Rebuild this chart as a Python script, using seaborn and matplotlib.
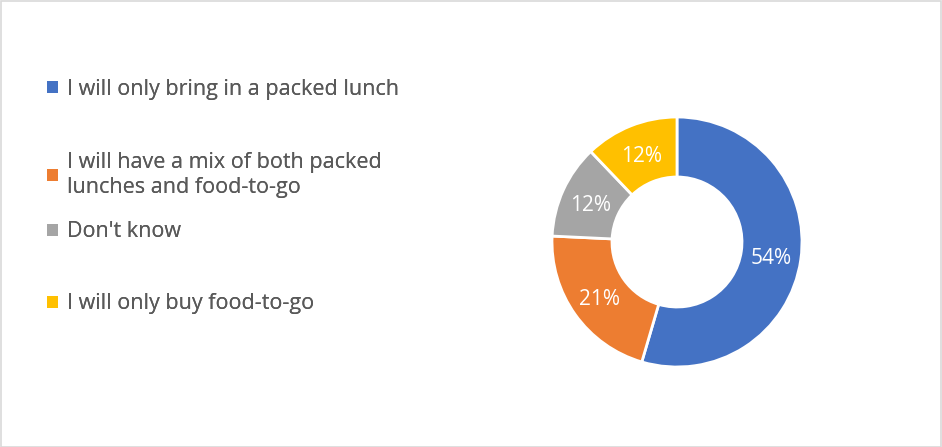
import matplotlib
matplotlib.use("Agg")
import matplotlib.pyplot as plt
from matplotlib.patches import Rectangle, Patch
import numpy as np
import seaborn as sns

categories = [
    "I will only bring in a packed lunch",
    "I will have a mix of both packed\nlunches and food-to-go",
    "Don't know",
    "I will only buy food-to-go",
]
values = [54, 21, 12, 12]
labels = ["54%", "21%", "12%", "12%"]
colors = ["#4472C4", "#ED7D31", "#A5A5A5", "#FFC000"]

sns.set_theme(style="white")
plt.rcParams["font.family"] = ["Open Sans", "DejaVu Sans"]

W, H = 942, 447
fig = plt.figure(figsize=(W / 100, H / 100), dpi=100)
fig.patch.set_facecolor("white")

# donut
cx, cy, R = 677, 242, 125
ax = fig.add_axes([(cx - R) / W, (H - cy - R) / H, 2 * R / W, 2 * R / H])
wedges, _ = ax.pie(
    values,
    colors=colors,
    startangle=90,
    counterclock=False,
    radius=1.0,
    wedgeprops=dict(width=0.48, edgecolor="white", linewidth=2),
)
total = sum(values)
ang = 90.0
for v, lab in zip(values, labels):
    span = 360.0 * v / total
    mid = np.deg2rad(ang - span / 2)
    ang -= span
    ax.text(0.76 * np.cos(mid), 0.76 * np.sin(mid) - 0.02, lab, ha="center", va="center",
            color="white", fontsize=15)
ax.set_xlim(-1.0, 1.0)
ax.set_ylim(-1.0, 1.0)
ax.set_aspect("equal")
ax.axis("off")

# legend entries (Excel-like positions)
ys = [89, 175, 232, 304]
for cat, col, y in zip(categories, colors, ys):
    leg = fig.legend(
        handles=[Patch(facecolor=col, edgecolor="none")],
        labels=[cat],
        loc="center left",
        bbox_to_anchor=(36 / W, 1 - y / H),
        frameon=False,
        fontsize=15.5,
        handlelength=0.5,
        handleheight=0.5,
        handletextpad=0.45,
        labelcolor="#595959",
        borderpad=0,
    )
    fig.add_artist(leg)

# outer border
fig.add_artist(Rectangle((0.5 / W, 0.5 / H), 1 - 1.5 / W, 1 - 1.5 / H, transform=fig.transFigure,
                         fill=False, edgecolor="#D9D9D9", linewidth=1.2))

fig.savefig("out.png", dpi=100, facecolor="white")
